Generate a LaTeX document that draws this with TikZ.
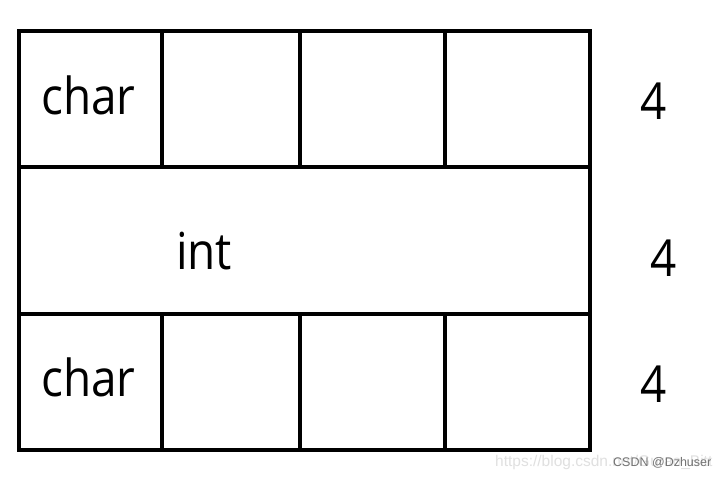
\documentclass[tikz,border=0pt]{standalone}
\usepackage{fontspec}
\setmainfont[FakeStretch=0.9]{Open Sans}
\newfontfamily\wmfont{Liberation Sans}
\begin{document}
\begin{tikzpicture}[x=1pt,y=-1pt,
  grid/.style={line width=4.6pt,line cap=rect,line join=miter},
  lbl/.style={anchor=base,inner sep=0pt,font=\fontsize{51}{51}\selectfont},
  wm/.style={anchor=base west,inner sep=0pt,font=\wmfont\fontsize{12.5}{12.5}\selectfont}]
\useasboundingbox[fill=white] (0,0) rectangle (724,481);
% outer frame and row separators
\draw[grid] (19,31) rectangle (590,450);
\draw[grid] (19,167) -- (590,167);
\draw[grid] (19,314) -- (590,314);
% top row dividers
\draw[grid] (162,31) -- (162,167);
\draw[grid] (300,31) -- (300,167);
\draw[grid] (445,31) -- (445,167);
% bottom row dividers
\draw[grid] (162,314) -- (162,450);
\draw[grid] (300,314) -- (300,450);
\draw[grid] (445,314) -- (445,450);
% labels
\node[lbl] (c1) at (88.5,115) {char};
\node[lbl] (i1) at (204,270) {int};
\node[lbl] (c2) at (88.5,397) {char};
\node[lbl] (n1) at (654,120) {4};
\node[lbl] (n2) at (664,277) {4};
\node[lbl] (n3) at (654,403) {4};
% watermark
\node[wm,text=black!12,font=\wmfont\fontsize{15.5}{15.5}\selectfont] (url) at (495,467) {https://blog.csdn.net/Gurao\_Bitt};
\node[wm,text=black!55] (csdn) at (613,467) {CSDN @Dzhuser};
\end{tikzpicture}
\end{document}
